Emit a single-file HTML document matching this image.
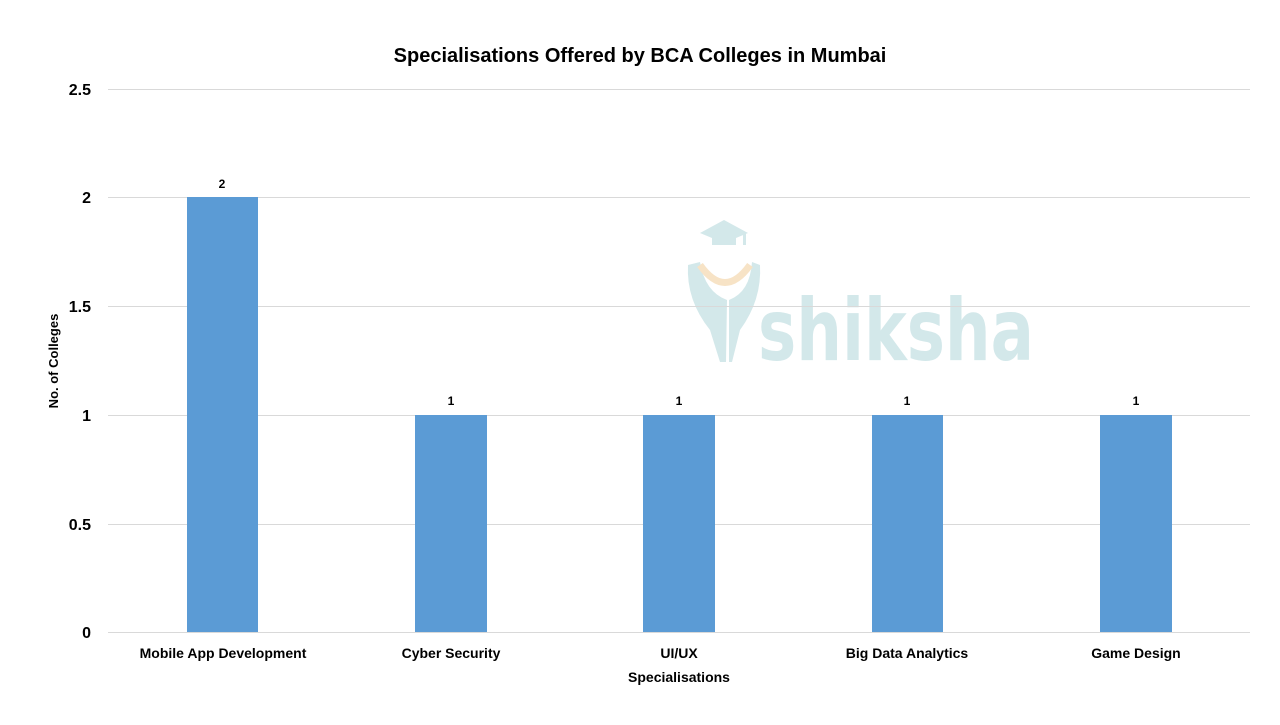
<!DOCTYPE html>
<html><head><meta charset="utf-8"><style>html,body{margin:0;padding:0;background:#fff}</style></head>
<body>
<svg width="1280" height="720" xmlns="http://www.w3.org/2000/svg" font-family="'Liberation Sans', sans-serif">
<rect width="1280" height="720" fill="#fff"/>
<!-- watermark -->
<g fill="#d3e8ea">
<polygon points="700,233 724,220 748,233 724,243"/>
<rect x="712" y="235" width="24" height="10"/>
<rect x="743" y="233" width="3" height="12"/>
<path d="M688,265 Q686,300 710,330 L720,362 L726,362 L727,300 Q705,292 700,262 Z"/>
<path d="M760,265 Q762,300 740,330 L732,362 L729,362 L729,300 Q750,292 752,262 Z"/>
<text x="758" y="360" font-size="86" font-weight="bold" font-family="'DejaVu Sans', sans-serif" textLength="276" lengthAdjust="spacingAndGlyphs">shiksha</text>
</g>
<path d="M700,265 Q725,300 750,265" stroke="#f7e3c6" stroke-width="7" fill="none"/>
<g stroke="#d9d9d9" stroke-width="1">
<line x1="108" y1="89.5" x2="1250" y2="89.5"/>
<line x1="108" y1="197.5" x2="1250" y2="197.5"/>
<line x1="108" y1="306.5" x2="1250" y2="306.5"/>
<line x1="108" y1="415.5" x2="1250" y2="415.5"/>
<line x1="108" y1="524.5" x2="1250" y2="524.5"/>
<line x1="108" y1="632.5" x2="1250" y2="632.5"/>
</g>
<g fill="#5b9bd5">
<rect x="187" y="197" width="71" height="435"/>
<rect x="415" y="415" width="72" height="217"/>
<rect x="643" y="415" width="72" height="217"/>
<rect x="872" y="415" width="71" height="217"/>
<rect x="1100" y="415" width="72" height="217"/>
</g>
<text x="640" y="62" font-size="20" font-weight="bold" text-anchor="middle" fill="#000">Specialisations Offered by BCA Colleges in Mumbai</text>
<g font-size="16" font-weight="bold" text-anchor="end" fill="#000">
<text x="91" y="95">2.5</text><text x="91" y="203">2</text><text x="91" y="312">1.5</text>
<text x="91" y="421">1</text><text x="91" y="530">0.5</text><text x="91" y="638">0</text>
</g>
<g font-size="12" font-weight="bold" text-anchor="middle" fill="#000">
<text x="222" y="188">2</text><text x="451" y="405">1</text><text x="679" y="405">1</text>
<text x="907" y="405">1</text><text x="1136" y="405">1</text>
</g>
<g font-size="14" font-weight="bold" text-anchor="middle" fill="#000">
<text x="223" y="658">Mobile App Development</text>
<text x="451" y="658">Cyber Security</text>
<text x="679" y="658">UI/UX</text>
<text x="907" y="658">Big Data Analytics</text>
<text x="1136" y="658">Game Design</text>
<text x="679" y="682">Specialisations</text>
</g>
<text transform="translate(58,361) rotate(-90)" font-size="13" font-weight="bold" text-anchor="middle" fill="#000">No. of Colleges</text>
</svg>
</body></html>
